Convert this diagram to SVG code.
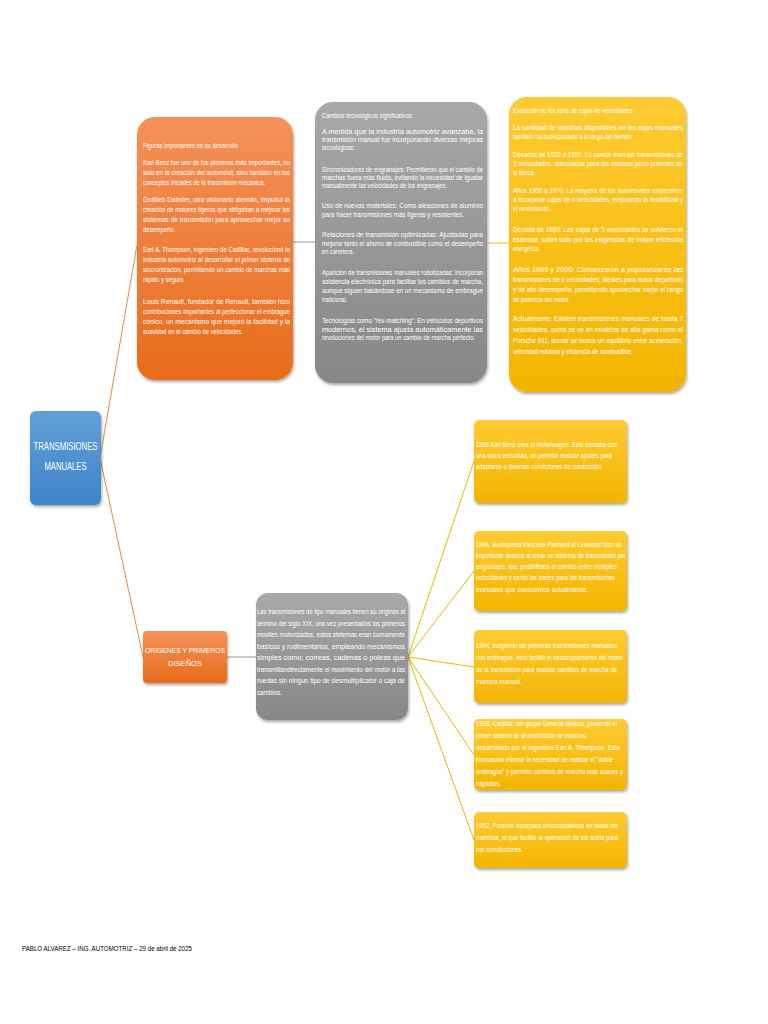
<svg xmlns="http://www.w3.org/2000/svg" width="768" height="1024" viewBox="0 0 768 1024">
<style>
text{font-family:"Liberation Sans Narrow","Liberation Sans",Arial,sans-serif;fill:#fff;font-size:7.8px}
.big{font-size:10.5px}
.foot{fill:#000;font-size:7.5px}
.c{fill:none;stroke-width:1}
</style>
<defs>
<linearGradient id="gO" x1="0" y1="0" x2="0" y2="1"><stop offset="0" stop-color="#f4915a"/><stop offset="1" stop-color="#e86c1b"/></linearGradient>
<linearGradient id="gG" x1="0" y1="0" x2="0" y2="1"><stop offset="0" stop-color="#a8a8a8"/><stop offset="1" stop-color="#878787"/></linearGradient>
<linearGradient id="gY" x1="0" y1="0" x2="0" y2="1"><stop offset="0" stop-color="#ffcb33"/><stop offset="1" stop-color="#f2b500"/></linearGradient>
<linearGradient id="gB" x1="0" y1="0" x2="0" y2="1"><stop offset="0" stop-color="#62a0d8"/><stop offset="1" stop-color="#3d84c9"/></linearGradient>
<filter id="sh" x="-10%" y="-10%" width="130%" height="130%"><feDropShadow dx="1" dy="2" stdDeviation="1.5" flood-opacity="0.35"/></filter>
</defs>
<g id="connectors">
<path class="c" stroke="#f08a40" d="M100 458 L137 245 M100 458 L143 657"/>
<path class="c" stroke="#999" d="M293 242 L315 242 M227 657 L256 657"/>
<path class="c" stroke="#f5b800" d="M487 243 L509 243 M408 657 L474 461 M408 657 L474 571 M408 657 L474 667 M408 657 L474 755 M408 657 L474 840"/>
</g>
<g id="root"><rect x="30" y="411" width="71" height="94" rx="6" fill="url(#gB)" filter="url(#sh)"/>
<text class="big" x="65.5" y="450" text-anchor="middle" textLength="64" lengthAdjust="spacingAndGlyphs">TRANSMISIONES</text>
<text class="big" x="65.5" y="470" text-anchor="middle" textLength="42" lengthAdjust="spacingAndGlyphs">MANUALES</text></g>
<g id="figuras"><rect x="137" y="117" width="156" height="263" rx="18" fill="url(#gO)" filter="url(#sh)"/>
<text x="143" y="148" textLength="95" lengthAdjust="spacingAndGlyphs">Figuras Importantes en su desarrollo</text>
<text x="143" y="165" textLength="147" lengthAdjust="spacingAndGlyphs">Karl Benz fue uno de los pioneros más importantes, no</text>
<text x="143" y="175" textLength="147" lengthAdjust="spacingAndGlyphs">solo en la creación del automóvil, sino también en los</text>
<text x="143" y="185" textLength="122" lengthAdjust="spacingAndGlyphs">conceptos iniciales de la transmisión mecánica.</text>
<text x="143" y="202" textLength="147" lengthAdjust="spacingAndGlyphs">Gottlieb Daimler, otro visionario alemán, impulsó la</text>
<text x="143" y="212" textLength="147" lengthAdjust="spacingAndGlyphs">creación de motores ligeros que obligaban a mejorar los</text>
<text x="143" y="222" textLength="147" lengthAdjust="spacingAndGlyphs">sistemas de transmisión para aprovechar mejor su</text>
<text x="143" y="232" textLength="32" lengthAdjust="spacingAndGlyphs">desempeño.</text>
<text x="143" y="252" textLength="147" lengthAdjust="spacingAndGlyphs">Earl A. Thompson, ingeniero de Cadillac, revolucionó la</text>
<text x="143" y="262" textLength="147" lengthAdjust="spacingAndGlyphs">industria automotriz al desarrollar el primer sistema de</text>
<text x="143" y="272" textLength="147" lengthAdjust="spacingAndGlyphs">sincronización, permitiendo un cambio de marchas más</text>
<text x="143" y="282" textLength="42" lengthAdjust="spacingAndGlyphs">rápido y seguro.</text>
<text x="143" y="304" textLength="147" lengthAdjust="spacingAndGlyphs">Louis Renault, fundador de Renault, también hizo</text>
<text x="143" y="314" textLength="147" lengthAdjust="spacingAndGlyphs">contribuciones importantes al perfeccionar el embrague</text>
<text x="143" y="324" textLength="147" lengthAdjust="spacingAndGlyphs">cónico, un mecanismo que mejoró la facilidad y la</text>
<text x="143" y="334" textLength="100" lengthAdjust="spacingAndGlyphs">suavidad en el cambio de velocidades.</text></g>
<g id="cambios"><rect x="315" y="102" width="172" height="281" rx="18" fill="url(#gG)" filter="url(#sh)"/>
<text x="322" y="118" textLength="90" lengthAdjust="spacingAndGlyphs">Cambios tecnológicos significativos</text>
<text x="322" y="134" textLength="161" lengthAdjust="spacingAndGlyphs">A medida que la industria automotriz avanzaba, la</text>
<text x="322" y="142" textLength="161" lengthAdjust="spacingAndGlyphs">transmisión manual fue incorporando diversas mejoras</text>
<text x="322" y="150" textLength="33" lengthAdjust="spacingAndGlyphs">tecnológicas:</text>
<text x="322" y="172" textLength="161" lengthAdjust="spacingAndGlyphs">Sincronizadores de engranajes: Permitieron que el cambio de</text>
<text x="322" y="180" textLength="161" lengthAdjust="spacingAndGlyphs">marchas fuera más fluido, evitando la necesidad de igualar</text>
<text x="322" y="188" textLength="125" lengthAdjust="spacingAndGlyphs">manualmente las velocidades de los engranajes.</text>
<text x="322" y="208" textLength="161" lengthAdjust="spacingAndGlyphs">Uso de nuevos materiales: Como aleaciones de aluminio</text>
<text x="322" y="217" textLength="142" lengthAdjust="spacingAndGlyphs">para hacer transmisiones más ligeras y resistentes.</text>
<text x="322" y="237" textLength="161" lengthAdjust="spacingAndGlyphs">Relaciones de transmisión optimizadas: Ajustadas para</text>
<text x="322" y="246" textLength="161" lengthAdjust="spacingAndGlyphs">mejorar tanto el ahorro de combustible como el desempeño</text>
<text x="322" y="254" textLength="32" lengthAdjust="spacingAndGlyphs">en carretera.</text>
<text x="322" y="275" textLength="161" lengthAdjust="spacingAndGlyphs">Aparición de transmisiones manuales robotizadas: Incorporan</text>
<text x="322" y="284" textLength="161" lengthAdjust="spacingAndGlyphs">asistencia electrónica para facilitar los cambios de marcha,</text>
<text x="322" y="293" textLength="161" lengthAdjust="spacingAndGlyphs">aunque siguen basándose en un mecanismo de embrague</text>
<text x="322" y="302" textLength="25" lengthAdjust="spacingAndGlyphs">tradicional.</text>
<text x="322" y="323" textLength="161" lengthAdjust="spacingAndGlyphs">Tecnologías como "rev-matching": En vehículos deportivos</text>
<text x="322" y="332" textLength="161" lengthAdjust="spacingAndGlyphs">modernos, el sistema ajusta automáticamente las</text>
<text x="322" y="340" textLength="153" lengthAdjust="spacingAndGlyphs">revoluciones del motor para un cambio de marcha perfecto.</text></g>
<g id="evolucion"><rect x="509" y="97" width="177" height="295" rx="18" fill="url(#gY)" filter="url(#sh)"/>
<text x="513" y="113" textLength="120" lengthAdjust="spacingAndGlyphs">Evolución de los tipos de cajas de velocidades</text>
<text x="513" y="130" textLength="170" lengthAdjust="spacingAndGlyphs">La cantidad de marchas disponibles en las cajas manuales</text>
<text x="513" y="139" textLength="120" lengthAdjust="spacingAndGlyphs">también ha evolucionado a lo largo del tiempo:</text>
<text x="513" y="157" textLength="170" lengthAdjust="spacingAndGlyphs">Décadas de 1920 a 1950: Lo común eran las transmisiones de</text>
<text x="513" y="166" textLength="170" lengthAdjust="spacingAndGlyphs">3 velocidades, adecuadas para los motores poco potentes de</text>
<text x="513" y="175" textLength="22" lengthAdjust="spacingAndGlyphs">la época.</text>
<text x="513" y="193" textLength="170" lengthAdjust="spacingAndGlyphs">Años 1950 a 1970: La mayoría de los automóviles empezaron</text>
<text x="513" y="202" textLength="170" lengthAdjust="spacingAndGlyphs">a incorporar cajas de 4 velocidades, mejorando la flexibilidad y</text>
<text x="513" y="211" textLength="37" lengthAdjust="spacingAndGlyphs">el rendimiento.</text>
<text x="513" y="232" textLength="170" lengthAdjust="spacingAndGlyphs">Década de 1980: Las cajas de 5 velocidades se volvieron el</text>
<text x="513" y="242" textLength="170" lengthAdjust="spacingAndGlyphs">estándar, sobre todo por las exigencias de mayor eficiencia</text>
<text x="513" y="251" textLength="27" lengthAdjust="spacingAndGlyphs">energética.</text>
<text x="513" y="272" textLength="170" lengthAdjust="spacingAndGlyphs">Años 1990 y 2000: Comenzaron a popularizarse las</text>
<text x="513" y="282" textLength="170" lengthAdjust="spacingAndGlyphs">transmisiones de 6 velocidades, ideales para autos deportivos</text>
<text x="513" y="292" textLength="170" lengthAdjust="spacingAndGlyphs">y de alto desempeño, permitiendo aprovechar mejor el rango</text>
<text x="513" y="302" textLength="57" lengthAdjust="spacingAndGlyphs">de potencia del motor.</text>
<text x="513" y="321" textLength="170" lengthAdjust="spacingAndGlyphs">Actualmente: Existen transmisiones manuales de hasta 7</text>
<text x="513" y="332" textLength="170" lengthAdjust="spacingAndGlyphs">velocidades, como se ve en modelos de alta gama como el</text>
<text x="513" y="343" textLength="170" lengthAdjust="spacingAndGlyphs">Porsche 911, donde se busca un equilibrio entre aceleración,</text>
<text x="513" y="354" textLength="120" lengthAdjust="spacingAndGlyphs">velocidad máxima y eficiencia de combustible.</text></g>
<g id="origenes"><rect x="143" y="631" width="84" height="52" rx="4" fill="url(#gO)" filter="url(#sh)"/>
<text x="185" y="653" text-anchor="middle" font-size="9.5" textLength="80" lengthAdjust="spacingAndGlyphs">ORIGENES Y PRIMEROS</text>
<text x="185" y="666" text-anchor="middle" font-size="9.5" textLength="34" lengthAdjust="spacingAndGlyphs">DISEÑOS</text></g>
<g id="historia"><rect x="256" y="593" width="152" height="127" rx="12" fill="url(#gG)" filter="url(#sh)"/>
<text x="257" y="614" textLength="148" lengthAdjust="spacingAndGlyphs">Las transmisiones de tipo manuales tienen su origines al</text>
<text x="257" y="625.5" textLength="148" lengthAdjust="spacingAndGlyphs">termino del siglo XIX, una vez presentados los primeros</text>
<text x="257" y="637" textLength="148" lengthAdjust="spacingAndGlyphs">moviles motorizados. estos sistemas eran sumamente</text>
<text x="257" y="648.5" textLength="148" lengthAdjust="spacingAndGlyphs">basicos y rudimentarios, empleando mecanismos</text>
<text x="257" y="660" textLength="148" lengthAdjust="spacingAndGlyphs">simples como; correas, cadenas o poleas que</text>
<text x="257" y="671.5" textLength="148" lengthAdjust="spacingAndGlyphs">transmitiandirectamente el movimiento del motor a las</text>
<text x="257" y="683" textLength="148" lengthAdjust="spacingAndGlyphs">ruedas sin ningun tipo de desmultiplicator o caja de</text>
<text x="257" y="694.5" textLength="25" lengthAdjust="spacingAndGlyphs">cambios.</text></g>
<g id="h1886"><rect x="474" y="420" width="153" height="83" rx="5" fill="url(#gY)" filter="url(#sh)"/>
<text x="476" y="447" textLength="141" lengthAdjust="spacingAndGlyphs">1886 Karl Benz crea el Motorwagen. Este contaba con</text>
<text x="476" y="458" textLength="136" lengthAdjust="spacingAndGlyphs">una única velocidad, no permitía realizar ajustes para</text>
<text x="476" y="469" textLength="127" lengthAdjust="spacingAndGlyphs">adaptarse a diversas condiciones de conducción.</text></g>
<g id="h1894"><rect x="474" y="531" width="153" height="80" rx="5" fill="url(#gY)" filter="url(#sh)"/>
<text x="476" y="547" textLength="146" lengthAdjust="spacingAndGlyphs">1894, la empresa francesa Panhard et Levassor hizo un</text>
<text x="476" y="558" textLength="150" lengthAdjust="spacingAndGlyphs">importante avance al crear un sistema de transmisión por</text>
<text x="476" y="569" textLength="141" lengthAdjust="spacingAndGlyphs">engranajes, que posibilitaba el cambio entre múltiples</text>
<text x="476" y="580" textLength="139" lengthAdjust="spacingAndGlyphs">velocidades y sentó las bases para las transmisiones</text>
<text x="476" y="592" textLength="112" lengthAdjust="spacingAndGlyphs">manuales que conocemos actualmente.</text></g>
<g id="h1904"><rect x="474" y="630" width="153" height="73" rx="5" fill="url(#gY)" filter="url(#sh)"/>
<text x="476" y="648" textLength="141" lengthAdjust="spacingAndGlyphs">1904, surgieron las primeras transmisiones manuales</text>
<text x="476" y="660" textLength="147" lengthAdjust="spacingAndGlyphs">con embrague, esto facilitó el desacoplamiento del motor</text>
<text x="476" y="672" textLength="141" lengthAdjust="spacingAndGlyphs">de la transmisión para realizar cambios de marcha de</text>
<text x="476" y="684" textLength="46" lengthAdjust="spacingAndGlyphs">manera manual.</text></g>
<g id="h1928"><rect x="474" y="719" width="153" height="71" rx="5" fill="url(#gY)" filter="url(#sh)"/>
<text x="476" y="726" textLength="141" lengthAdjust="spacingAndGlyphs">1928, Cadillac del grupo General Motors, presentó el</text>
<text x="476" y="738" textLength="111" lengthAdjust="spacingAndGlyphs">primer sistema de sincronización de marchas,</text>
<text x="476" y="750" textLength="144" lengthAdjust="spacingAndGlyphs">desarrollado por el ingeniero Earl A. Thompson. Esta</text>
<text x="476" y="762" textLength="137" lengthAdjust="spacingAndGlyphs">innovación eliminó la necesidad de realizar el "doble</text>
<text x="476" y="774" textLength="147" lengthAdjust="spacingAndGlyphs">embrague" y permitió cambios de marcha más suaves y</text>
<text x="476" y="786" textLength="26" lengthAdjust="spacingAndGlyphs">rápidos.</text></g>
<g id="h1952"><rect x="474" y="812" width="153" height="56" rx="5" fill="url(#gY)" filter="url(#sh)"/>
<text x="476" y="828" textLength="142" lengthAdjust="spacingAndGlyphs">1952, Porsche incorpora sincronizadores en todas las</text>
<text x="476" y="840" textLength="142" lengthAdjust="spacingAndGlyphs">marchas, lo que facilitó la operación de los autos para</text>
<text x="476" y="852" textLength="47" lengthAdjust="spacingAndGlyphs">los conductores.</text></g>
<text class="foot" x="22" y="951" textLength="170" lengthAdjust="spacingAndGlyphs">PABLO ALVAREZ – ING. AUTOMOTRIZ – 29 de abril de 2025</text>
</svg>
